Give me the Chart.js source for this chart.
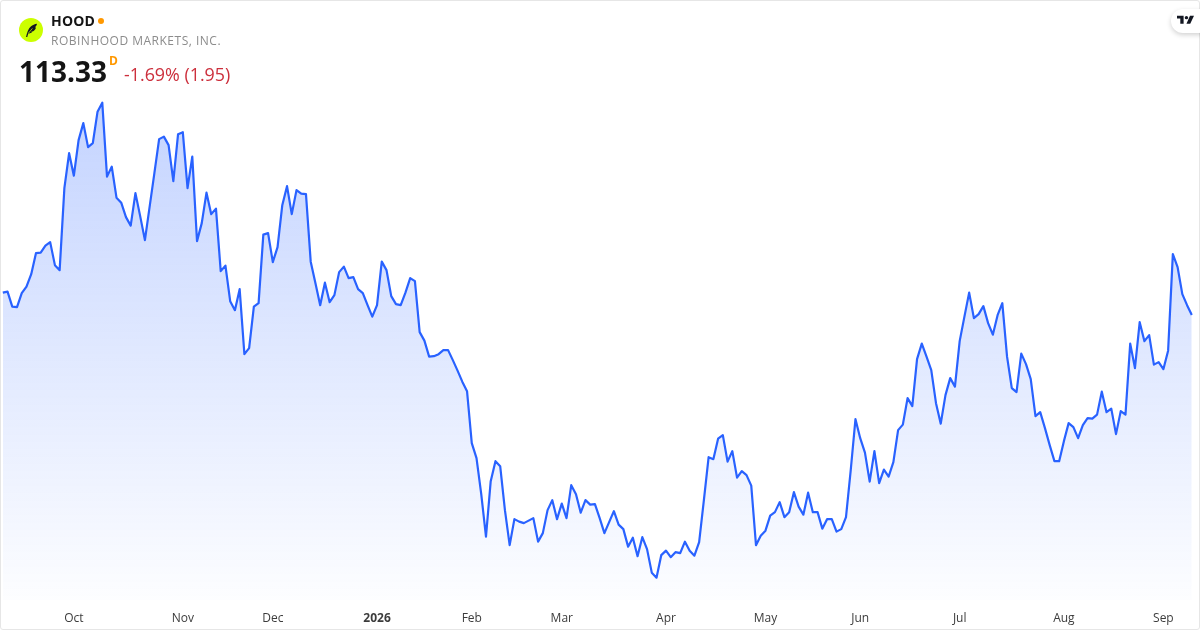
<!DOCTYPE html>
<html>
<head>
<meta charset="utf-8">
<title>HOOD</title>
<script src="https://cdn.jsdelivr.net/npm/chart.js@4"></script>
<style>
  html, body { margin:0; padding:0; background:#fff; }
  body { width:1200px; height:630px; overflow:hidden; position:relative; font-family:"Open Sans", sans-serif; }
  #frame { position:absolute; left:0; top:0; width:1198px; height:628px; border:1px solid #e6e6e6; border-radius:3px; pointer-events:none; }
  #chartEl { position:absolute; left:0; top:0; }
  .t { position:absolute; white-space:nowrap; }
  #logo { position:absolute; left:19px; top:18px; width:24px; height:24px; }
  #ticker { left:51px; top:12px; font-size:14px; font-weight:700; color:#141414; line-height:18px; letter-spacing:.2px; }
  #dot { position:absolute; left:98px; top:18px; width:6px; height:6px; border-radius:50%; background:#ff9800; }
  #name { left:51px; top:32px; font-size:12px; color:#8c8c8c; line-height:17px; letter-spacing:.5px; }
  #price { left:19px; top:52px; font-size:28px; font-weight:700; color:#141414; line-height:38px; }
  #res { left:109px; top:53px; font-size:12px; font-weight:700; color:#ff9800; line-height:16px; }
  #change { left:124px; top:62px; font-size:17.85px; color:#cc2f3c; line-height:25px; }
  #tv { position:absolute; left:1171px; top:9px; width:40px; height:24px; border-radius:12px; background:#fff; box-shadow:0 2px 5px rgba(0,0,0,.18); }
  #tv svg { position:absolute; left:6px; top:6px; }
</style>
</head>
<body>
<canvas id="chartEl" width="1200" height="630"></canvas>
<div id="frame"></div>

<svg id="logo" viewBox="0 0 24 24">
  <circle cx="12" cy="12" r="12" fill="#ccff00"/>
  <path d="M7 19 C8 14.5 9.5 10.5 11.8 8.6 C13.5 7 15.8 6 18 5.8 C17.8 7.4 17 8.6 16 9.2 C16.4 9.5 16.7 9.6 17 9.6 C16.4 11.6 15.2 13 13.6 13.6 L12.4 13.6 C12.7 14 12.9 14.2 13.1 14.3 C11.6 15.4 10.4 15.6 9.5 15.3 C9 16.5 8.5 17.8 8.3 19 Z" fill="#131722"/>
  <path d="M9.4 15.2 L13.4 10.4" stroke="#ccff00" stroke-width=".7" fill="none"/>
</svg>
<div class="t" id="ticker">HOOD</div>
<div id="dot"></div>
<div class="t" id="name">ROBINHOOD MARKETS, INC.</div>
<div class="t" id="price">113.33</div>
<div class="t" id="res">D</div>
<div class="t" id="change">-1.69% (1.95)</div>
<div id="tv">
  <svg width="17" height="10" viewBox="0 0 36 20">
    <path d="M14 18H7V7H0V1h14v17z M28 18h-8L27.5 1H36l-8 17z" fill="#131722"/>
    <circle cx="20" cy="5" r="3.6" fill="#131722"/>
  </svg>
</div>

<script>
// daily closes
const closePrices = [
  117.8,118.0,115.0,114.9,117.7,119.0,121.5,125.7,125.8,127.2,127.9,123.3,122.3,138.7,145.7,141.2,
  148.3,151.7,146.9,147.7,154.0,155.8,141.0,143.0,136.8,135.8,132.9,131.2,137.7,133.1,128.3,135.0,
  141.7,148.5,149.0,147.3,140.1,149.5,149.9,138.7,145.0,128.1,131.7,137.8,133.5,134.6,122.1,123.2,
  116.1,114.3,118.5,105.5,106.7,115.0,115.7,129.4,129.7,123.9,126.9,135.3,139.1,133.5,138.3,137.6,
  137.5,124.0,119.7,115.3,119.8,115.9,117.3,121.9,123.0,120.7,120.9,118.5,117.7,115.3,113.0,115.3,
  124.0,122.3,117.1,115.5,115.3,117.8,120.7,120.1,109.9,108.2,105.0,105.1,105.5,106.3,106.3,104.3,
  102.2,100.0,98.1,87.7,84.7,77.5,69.0,80.1,84.1,83.1,74.3,67.3,72.5,72.0,71.7,72.2,
  72.7,68.0,69.7,74.3,76.3,72.5,75.6,72.7,79.3,77.5,73.8,76.3,75.4,75.5,72.7,69.7,
  71.9,74.1,71.4,70.5,67.0,68.8,65.1,68.9,66.5,61.8,60.8,65.3,66.2,64.9,65.9,65.7,
  68.0,66.2,65.2,67.9,76.3,84.9,84.5,88.6,89.3,84.0,86.1,80.8,82.1,81.3,79.2,67.3,
  69.2,70.2,73.2,73.9,75.9,72.9,73.9,77.9,75.0,73.4,77.8,73.9,73.9,70.6,72.5,72.5,
  70.0,70.5,72.9,82.3,92.5,88.7,85.8,80.0,86.1,79.7,82.4,81.0,83.9,90.3,91.4,96.7,
  95.1,104.5,107.6,105.0,102.3,95.7,91.6,97.3,100.7,99.0,108.1,113.0,117.8,112.7,113.5,115.1,
  111.7,109.4,113.3,115.7,105.0,98.7,97.9,105.6,103.5,100.5,93.1,93.9,90.7,87.3,84.1,84.1,
  88.1,91.7,90.9,88.7,91.3,92.7,92.6,93.4,98.0,93.9,94.6,89.5,94.1,93.4,107.6,102.7,
  111.9,108.1,109.3,103.4,103.9,102.5,106.2,125.5,122.9,117.5,115.3,113.33
];
const tickLabels = ['Oct','Nov','Dec','2026','Feb','Mar','Apr','May','Jun','Jul','Aug','Sep'];
const tickIndexes = [15,38,57,79,99,118,140,161,181,202,224,245];
const dayIndexes = closePrices.map((_, i) => i);

function areaFill(ctx){
  const a = ctx.chart.chartArea;
  if(!a) return 'rgba(41,98,255,.2)';
  const g = ctx.chart.ctx.createLinearGradient(0, 100, 0, a.bottom);
  g.addColorStop(0, 'rgba(41,98,255,.28)');
  g.addColorStop(1, 'rgba(41,98,255,.01)');
  return g;
}

new Chart(document.getElementById('chartEl'), {
  type:'line',
  data:{
    labels:dayIndexes,
    datasets:[{
      data:closePrices,
      borderColor:'#2962ff',
      borderWidth:2.2,
      borderJoinStyle:'round',
      backgroundColor:areaFill,
      fill:'start',
      tension:0,
      pointRadius:0
    }]
  },
  options:{
    responsive:false,
    animation:false,
    layout:{ padding:{ left:2.8, right:8.2, top:0, bottom:0 } },
    plugins:{ legend:{display:false}, tooltip:{enabled:false} },
    scales:{
      x:{
        offset:false,
        border:{display:false},
        grid:{display:false},
        afterFit:s => { s.height = 30; },
        ticks:{
          autoSkip:false,
          maxRotation:0,
          padding:3,
          color:'#3c3c3c',
          font:c => ({ family:'"Open Sans"', size:12, weight:c.tick && c.tick.label === '2026' ? '700' : '400' }),
          callback:(v, i) => {
            const k = tickIndexes.indexOf(i);
            return k < 0 ? null : tickLabels[k];
          }
        }
      },
      y:{ display:false, min:56.33, max:176.33 }
    }
  }
});
</script>
</body>
</html>
